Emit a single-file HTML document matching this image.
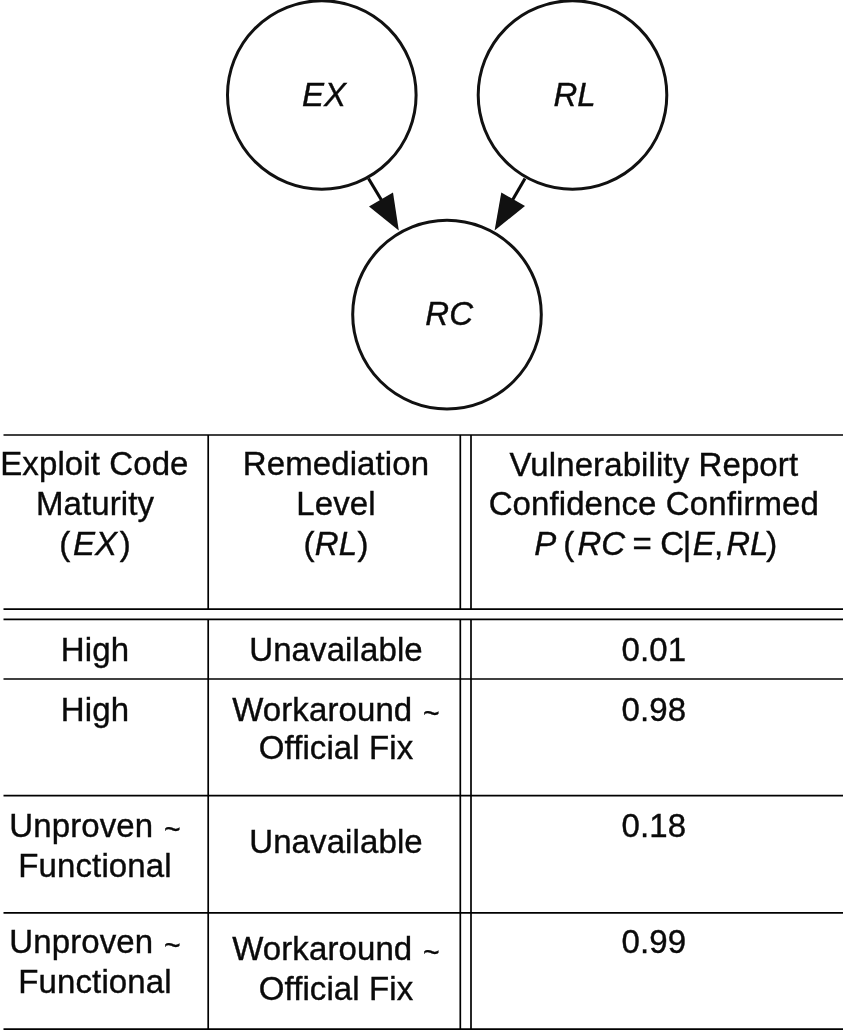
<!DOCTYPE html>
<html><head><meta charset="utf-8"><title>Bayesian network</title>
<style>
html,body{margin:0;padding:0;background:#fff;}
body{width:843px;height:1030px;overflow:hidden;}
svg{display:block;}
text{font-family:"Liberation Sans",sans-serif;font-size:33px;fill:#0a0a0a;stroke:#0a0a0a;stroke-width:0.38px;letter-spacing:0.1px;text-anchor:middle;}
.i{font-style:italic;}
.ln{stroke:#000;stroke-width:1.7;}
.t{font-size:28.5px;stroke-width:0.35px;}
.c{fill:none;stroke:#111;stroke-width:3;}
</style></head><body>
<svg width="843" height="1030" viewBox="0 0 843 1030">

<circle class="c" cx="321.8" cy="95" r="94.3"/>
<circle class="c" cx="572.5" cy="95" r="94.3"/>
<circle class="c" cx="447" cy="314.6" r="94.3"/>
<line x1="368.5" y1="178.5" x2="385" y2="206" stroke="#0a0a0a" stroke-width="3.1"/>
<polygon points="398.8,230.6 369,206.6 393,192.4" fill="#111"/>
<line x1="525" y1="178.5" x2="509" y2="206" stroke="#0a0a0a" stroke-width="3.1"/>
<polygon points="494.6,230.4 501.3,192.4 525,206" fill="#111"/>
<line class="ln" x1="3.5" y1="435.0" x2="843" y2="435.0"/>
<line class="ln" x1="3.5" y1="609.2" x2="843" y2="609.2"/>
<line class="ln" x1="3.5" y1="619.4" x2="843" y2="619.4"/>
<line class="ln" x1="3.5" y1="679" x2="843" y2="679"/>
<line class="ln" x1="3.5" y1="795.6" x2="843" y2="795.6"/>
<line class="ln" x1="3.5" y1="912.8" x2="843" y2="912.8"/>
<line class="ln" x1="3.5" y1="1029.1" x2="843" y2="1029.1"/>
<line class="ln" x1="208.2" y1="435.0" x2="208.2" y2="609.2"/>
<line class="ln" x1="208.2" y1="619.4" x2="208.2" y2="1029.1"/>
<line class="ln" x1="460.3" y1="435.0" x2="460.3" y2="609.2"/>
<line class="ln" x1="460.3" y1="619.4" x2="460.3" y2="1029.1"/>
<line class="ln" x1="471.0" y1="435.0" x2="471.0" y2="609.2"/>
<line class="ln" x1="471.0" y1="619.4" x2="471.0" y2="1029.1"/>
<text x="324.1" y="105.8"><tspan class="i">EX</tspan></text>
<text x="574.6" y="105.8"><tspan class="i">RL</tspan></text>
<text x="449.2" y="324.7"><tspan class="i">RC</tspan></text>
<text x="94.4" y="474.7">Exploit Code</text>
<text x="95" y="515.1">Maturity</text>
<text x="95" y="554.8">(<tspan class="i" dx="2.6">EX</tspan><tspan dx="2.6">)</tspan></text>
<text x="336" y="475.1">Remediation</text>
<text x="336" y="515.1">Level</text>
<text x="336" y="554.8">(<tspan class="i" dx="0.3">RL</tspan><tspan dx="0.3">)</tspan></text>
<text x="653.8" y="475.6">Vulnerability Report</text>
<text x="653.8" y="515.2">Confidence Confirmed</text>
<text x="653.5" y="554.8"><tspan class="i" dx="2.2">P</tspan> <tspan dx="-2.2">(</tspan><tspan class="i" dx="3">RC</tspan> <tspan dx="-2">=</tspan> <tspan dx="-1">C</tspan><tspan dx="-1.4">|</tspan><tspan class="i" dx="1.4">E</tspan><tspan dx="-1">,</tspan><tspan class="i" dx="2.9">RL</tspan><tspan dx="-2.4">)</tspan></text>
<text x="95" y="660.6">High</text>
<text x="336" y="660.6">Unavailable</text>
<text x="653.8" y="660.6">0.01</text>
<text x="95" y="720.5">High</text>
<text x="336" y="720.5">Workaround <tspan class="t" dx="1.5" dy="2.3">~</tspan></text>
<text x="336" y="759.1">Official Fix</text>
<text x="653.8" y="720.5">0.98</text>
<text x="95" y="836.8">Unproven <tspan class="t" dx="1.5" dy="2.3">~</tspan></text>
<text x="95" y="876.6">Functional</text>
<text x="336" y="852.6">Unavailable</text>
<text x="653.8" y="836.8">0.18</text>
<text x="95" y="953.0">Unproven <tspan class="t" dx="1.5" dy="2.3">~</tspan></text>
<text x="95" y="993.3">Functional</text>
<text x="336" y="959.6">Workaround <tspan class="t" dx="1.5" dy="2.3">~</tspan></text>
<text x="336" y="1000.0">Official Fix</text>
<text x="653.8" y="952.6">0.99</text>
</svg></body></html>
